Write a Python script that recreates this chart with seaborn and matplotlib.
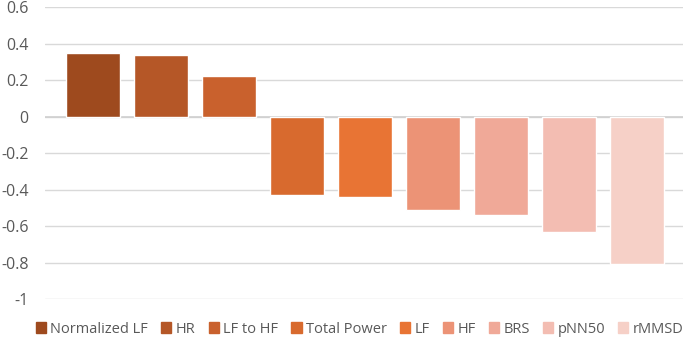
import matplotlib
matplotlib.use("Agg")
import matplotlib.pyplot as plt
import seaborn as sns
import pandas as pd

# values
categories = ["Normalized LF", "HR", "LF to HF", "Total Power", "LF",
              "HF", "BRS", "pNN50", "rMMSD"]
values = [0.35, 0.34, 0.22, -0.43, -0.44, -0.51, -0.54, -0.63, -0.81]
colors = ["#9E4A1E", "#B55727", "#C9612D", "#D86A2E", "#E87434",
          "#EC9376", "#F0A998", "#F3BDB2", "#F6D0C7"]
yticks = [-1, -0.8, -0.6, -0.4, -0.2, 0, 0.2, 0.4, 0.6]
ytick_labels = ["-1", "-0.8", "-0.6", "-0.4", "-0.2", "0", "0.2", "0.4", "0.6"]

df = pd.DataFrame({"name": categories, "value": values})

sns.set_theme(style="white")
plt.rcParams["font.family"] = ["Open Sans", "DejaVu Sans"]

fig = plt.figure(figsize=(6.85, 3.41), dpi=100)
ax = fig.add_axes([0.066, 0.123, 0.931, 0.856])

sns.barplot(data=df, x="name", y="value", hue="name", palette=colors,
            order=categories, hue_order=categories, dodge=False,
            width=0.8, saturation=1, legend=True, ax=ax, zorder=3)

ax.set_ylim(-1, 0.6)
ax.set_xlim(-0.70, len(categories) - 0.32)
ax.set_yticks(yticks)
ax.set_yticklabels(ytick_labels)
ax.tick_params(axis="y", length=0, pad=12, labelsize=11.5, labelcolor="#595959")
ax.set_xticks([])
ax.set_xlabel("")
ax.set_ylabel("")
ax.grid(True, axis="y", color="#D9D9D9", linewidth=1.0, zorder=0)
for s in ax.spines.values():
    s.set_visible(False)
ax.axhline(0, color="#D0D0D0", linewidth=1.2, zorder=2)

ax.get_legend().remove()
handles = [plt.Rectangle((0, 0), 1, 1, color=c) for c in colors]
fig.legend(handles, categories, loc="center", bbox_to_anchor=(0.525, 0.035),
           ncol=len(categories), frameon=False, fontsize=10.5,
           handlelength=0.7, handleheight=0.7, handletextpad=0.3,
           columnspacing=0.9, labelcolor="#595959")

fig.savefig("out.png", dpi=100)
